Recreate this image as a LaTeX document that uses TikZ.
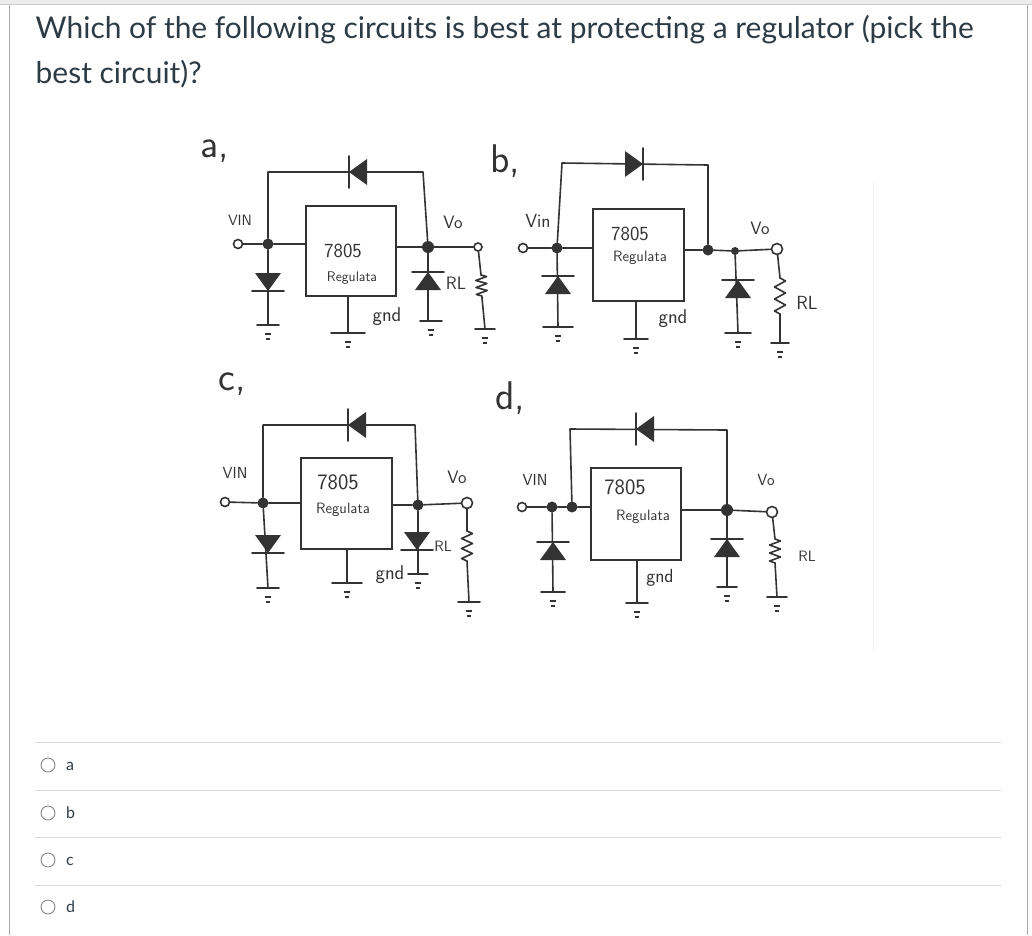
\documentclass[tikz,border=0pt]{standalone}
\usepackage{fontspec}
\setmainfont{Lato}
\usepackage{tikz}
\usetikzlibrary{decorations.pathmorphing}
\definecolor{inkgray}{HTML}{2D3B45}
\definecolor{rulegray}{HTML}{DADADA}
\definecolor{framegray}{HTML}{A9A9A9}
\definecolor{pengray}{HTML}{333333}
\tikzset{
    wire/.style={draw=pengray, line width=1.6pt, line cap=round, line join=round},
    dotnode/.style={circle, fill=pengray, inner sep=0pt, minimum size=11pt},
    termnode/.style={circle, draw=pengray, fill=white, line width=1.6pt, inner sep=0pt, minimum size=9pt},
    regbox/.style={draw=pengray, line width=1.3pt, inner sep=0pt},
    hand/.style={text=pengray, inner sep=0pt, font=\sffamily\fontsize{#1}{#1}\selectfont},
    resist/.style={wire, decorate, decoration={zigzag, segment length=#1, amplitude=5.5pt}},
    option/.style={text=inkgray, inner sep=0pt, anchor=base west, font=\fontsize{16}{19}\selectfont},
    radio/.style={circle, draw=framegray!80!black, line width=.9pt, inner sep=0pt, minimum size=14pt},
    pics/diodemark/.style={code={
        \fill[pengray] (-9,-13) -- (-9,13) -- (9,0) -- cycle;
        \draw[wire] (9,-16) -- (9,16);
    }},
    pics/gndmark/.style={code={
        \draw[wire] (-#1,0) -- (#1,0);
        \draw[pengray, line width=1.6pt] (-3,9) -- (3,9);
        \draw[pengray, line width=1.6pt] (-2,14) -- (2,14);
    }},
    pics/gndmark/.default=11
}

\begin{document}
\begin{tikzpicture}[x=1pt, y=-1pt]
    \useasboundingbox (0,0) rectangle (1032,935);

    % page frame
    \fill[black!7] (0,0) rectangle (1032,4);
    \draw[black!20, line width=1.5pt] (0,4.5) -- (1032,4.5);
    \draw[framegray, line width=1.2pt] (9.5,5) -- (9.5,935);
    \draw[framegray, line width=1.2pt] (1027.5,5) -- (1027.5,935);
    \draw[black!5, line width=1pt] (873,182) -- (873,652);

    % question
    \node[text=inkgray, inner sep=0pt, anchor=base west, font=\fontsize{29.95}{35}\selectfont] (Q1) at (35.5,38) {Which of the following circuits is best at protecting a regulator (pick the};
    \node[text=inkgray, inner sep=0pt, anchor=base west, font=\fontsize{29.95}{35}\selectfont] (Q2) at (35.5,83) {best circuit)?};

    % circuit a
    \node[hand=40] (aName) at (215,151) {a,};
    \node[regbox, minimum width=90pt, minimum height=90pt] (aBox) at (351,251) {};
    \node[dotnode] (aJin) at (268,244) {};
    \node[dotnode, minimum size=12pt] (aJout) at (428,247) {};
    \node[termnode] (aIn) at (238,244) {};
    \node[termnode, minimum size=8pt] (aOut) at (478,247) {};
    \coordinate (aTL) at (268,172);
    \coordinate (aTR) at (423,172);
    \coordinate (aDtop) at (358,172);
    \coordinate (aDleft) at (268,282);
    \coordinate (aDright) at (428,281);
    \coordinate (aGleft) at (268,325);
    \coordinate (aGreg) at (348,333);
    \coordinate (aGright) at (431,321);
    \coordinate (aGres) at (485,329);
    \coordinate (aRtop) at (481,275);
    \coordinate (aRbot) at (482,298);
    \path[wire] (aIn) -- (aJin) -- (aJin -| aBox.west);
    \path[wire] (aJin) -- (aTL) -- (aTR) -- (aJout);
    \path[wire] (aJout -| aBox.east) -- (aJout) -- (aOut);
    \path[wire] (aJin) -- (aGleft);
    \path[wire] (aJout) -- (aJout |- aGright);
    \path[wire] (aBox.south -| aGreg) -- (aGreg);
    \path[wire] (aOut) -- (aRtop);
    \path[resist=7pt] (aRtop) -- (aRbot);
    \path[wire] (aRbot) -- (aGres);
    \pic at (aDtop) [rotate=180] {diodemark};
    \pic at (aDleft) [rotate=-90] {diodemark};
    \pic at (aDright) [rotate=90] {diodemark};
    \pic at (aGleft) {gndmark};
    \pic at (aGreg) {gndmark=17};
    \pic at (aGright) {gndmark};
    \pic at (aGres) {gndmark=10};
    \node[hand=15] (aVin) at (240,220) {VIN};
    \node[hand=18] (aVo) at (453,222) {Vo};
    \node[hand=20] (a7805) at (343,251) {7805};
    \node[hand=14] (aReg) at (352,278) {Regulata};
    \node[hand=18] (aRL) at (456,283) {RL};
    \node[hand=20] (aGnd) at (387,317) {gnd};

    % circuit b
    \node[hand=40] (bName) at (505,161) {b,};
    \node[regbox, minimum width=91pt, minimum height=92pt] (bBox) at (638.5,255) {};
    \node[dotnode] (bJin) at (557,248) {};
    \node[dotnode] (bJout) at (708,250) {};
    \node[dotnode, minimum size=8pt] (bJdio) at (735,251) {};
    \node[termnode] (bIn) at (523,248) {};
    \node[termnode, minimum size=11pt] (bOut) at (777,249) {};
    \coordinate (bTL) at (562,163);
    \coordinate (bTR) at (708,165);
    \coordinate (bDtop) at (634,164);
    \coordinate (bDleft) at (558,285);
    \coordinate (bDright) at (738,289);
    \coordinate (bGleft) at (558,327);
    \coordinate (bGreg) at (636,339);
    \coordinate (bGright) at (738,333);
    \coordinate (bGres) at (780,343);
    \coordinate (bRtop) at (780,278);
    \coordinate (bRbot) at (780,314);
    \path[wire] (bIn) -- (bJin) -- (bJin -| bBox.west);
    \path[wire] (bJin) -- (bTL) -- (bTR) -- (bJout);
    \path[wire] (bJout -| bBox.east) -- (bJout) -- (bJdio) -- (bOut);
    \path[wire] (bJin) -- (bGleft);
    \path[wire] (bJdio) -- (bGright);
    \path[wire] (bBox.south -| bGreg) -- (bGreg);
    \path[wire] (bOut) -- (bRtop);
    \path[resist=12pt] (bRtop) -- (bRbot);
    \path[wire] (bRbot) -- (bGres);
    \pic at (bDtop) {diodemark};
    \pic at (bDleft) [rotate=90] {diodemark};
    \pic at (bDright) [rotate=90] {diodemark};
    \pic at (bGleft) {gndmark=15};
    \pic at (bGreg) {gndmark=12};
    \pic at (bGright) {gndmark=13};
    \pic at (bGres) {gndmark=9};
    \node[hand=19] (bVin) at (538,221) {Vin};
    \node[hand=18] (bVo) at (760,228) {Vo};
    \node[hand=20] (b7805) at (630,234) {7805};
    \node[hand=15] (bReg) at (640,258) {Regulata};
    \node[hand=19] (bRL) at (807,303) {RL};
    \node[hand=20] (bGnd) at (673,319) {gnd};

    % circuit c
    \node[hand=40] (cName) at (232,384) {c,};
    \node[regbox, minimum width=91pt, minimum height=91pt] (cBox) at (346.5,503.5) {};
    \node[dotnode] (cJin) at (263,503) {};
    \node[dotnode] (cJout) at (418,505) {};
    \node[termnode] (cIn) at (225,502) {};
    \node[termnode, minimum size=11pt] (cOut) at (467,503) {};
    \coordinate (cTL) at (263,425);
    \coordinate (cTR) at (415,425);
    \coordinate (cDtop) at (357,425);
    \coordinate (cDleft) at (268,544);
    \coordinate (cDright) at (417,541);
    \coordinate (cGleft) at (268,588);
    \coordinate (cGreg) at (347,583);
    \coordinate (cGright) at (418,574);
    \coordinate (cGres) at (469,602);
    \coordinate (cRtop) at (467,531);
    \coordinate (cRbot) at (467,561);
    \path[wire] (cIn) -- (cJin) -- (cJin -| cBox.west);
    \path[wire] (cJin) -- (cTL) -- (cTR) -- (cJout);
    \path[wire] (cJout -| cBox.east) -- (cJout) -- (cOut);
    \path[wire] (cJin) -- (cGleft);
    \path[wire] (cJout) -- (cGright);
    \path[wire] (cBox.south -| cGreg) -- (cGreg);
    \path[wire] (cOut) -- (cRtop);
    \path[resist=10pt] (cRtop) -- (cRbot);
    \path[wire] (cRbot) -- (cGres);
    \pic at (cDtop) [rotate=180] {diodemark};
    \pic at (cDleft) [rotate=-90] {diodemark};
    \pic at (cDright) [rotate=-90] {diodemark};
    \pic at (cGleft) {gndmark};
    \pic at (cGreg) {gndmark=15};
    \pic at (cGright) {gndmark=10};
    \pic at (cGres) {gndmark=11};
    \node[hand=16] (cVin) at (235,473) {VIN};
    \node[hand=18] (cVo) at (457,477) {Vo};
    \node[hand=22] (c7805) at (338,482) {7805};
    \node[hand=15] (cReg) at (343,510) {Regulata};
    \node[hand=15] (cRL) at (443,546) {RL};
    \node[hand=20] (cGnd) at (390,575) {gnd};

    % circuit d
    \node[hand=40] (dName) at (510,398) {d,};
    \node[regbox, minimum width=90pt, minimum height=92pt] (dBox) at (636,514) {};
    \node[dotnode] (dJdio) at (552,507) {};
    \node[dotnode] (dJin) at (572,507) {};
    \node[dotnode, minimum size=12pt] (dJout) at (727,510) {};
    \node[termnode] (dIn) at (522,507) {};
    \node[termnode, minimum size=11pt] (dOut) at (772,512) {};
    \coordinate (dTL) at (570,429);
    \coordinate (dTR) at (727,430);
    \coordinate (dDtop) at (645,429);
    \coordinate (dDleft) at (553,551);
    \coordinate (dDright) at (727,548);
    \coordinate (dGleft) at (553,592);
    \coordinate (dGreg) at (637,603);
    \coordinate (dGright) at (727,587);
    \coordinate (dGres) at (777,597);
    \coordinate (dRtop) at (775,539);
    \coordinate (dRbot) at (775,563);
    \path[wire] (dIn) -- (dJdio) -- (dJin) -- (dJin -| dBox.west);
    \path[wire] (dJin) -- (dTL) -- (dTR) -- (dJout);
    \path[wire] (dJout -| dBox.east) -- (dJout) -- (dOut);
    \path[wire] (dJdio) -- (dGleft);
    \path[wire] (dJout) -- (dGright);
    \path[wire] (dBox.south -| dGreg) -- (dGreg);
    \path[wire] (dOut) -- (dRtop);
    \path[resist=8pt] (dRtop) -- (dRbot);
    \path[wire] (dRbot) -- (dGres);
    \pic at (dDtop) [rotate=180] {diodemark};
    \pic at (dDleft) [rotate=90] {diodemark};
    \pic at (dDright) [rotate=90] {diodemark};
    \pic at (dGleft) {gndmark=12};
    \pic at (dGreg) {gndmark=11};
    \pic at (dGright) {gndmark=10};
    \pic at (dGres) {gndmark=10};
    \node[hand=16] (dVin) at (535,480) {VIN};
    \node[hand=16] (dVo) at (766,480) {Vo};
    \node[hand=22] (d7805) at (625,487) {7805};
    \node[hand=15] (dReg) at (643,517) {Regulata};
    \node[hand=15] (dRL) at (807,556) {RL};
    \node[hand=19] (dGnd) at (660,578) {gnd};

    % answer options
    \draw[rulegray, line width=1pt] (35,742.5) -- (1001,742.5);
    \draw[rulegray, line width=1pt] (35,790.5) -- (1001,790.5);
    \draw[rulegray, line width=1pt] (35,837.5) -- (1001,837.5);
    \draw[rulegray, line width=1pt] (35,885.5) -- (1001,885.5);
    \node[radio] (r1) at (48,765) {};
    \node[radio] (r2) at (48,813) {};
    \node[radio] (r3) at (48,860) {};
    \node[radio] (r4) at (48,907) {};
    \node[option] (oA) at (66,770) {a};
    \node[option] (oB) at (66,818) {b};
    \node[option] (oC) at (66,865) {c};
    \node[option] (oD) at (66,912) {d};
\end{tikzpicture}
\end{document}
